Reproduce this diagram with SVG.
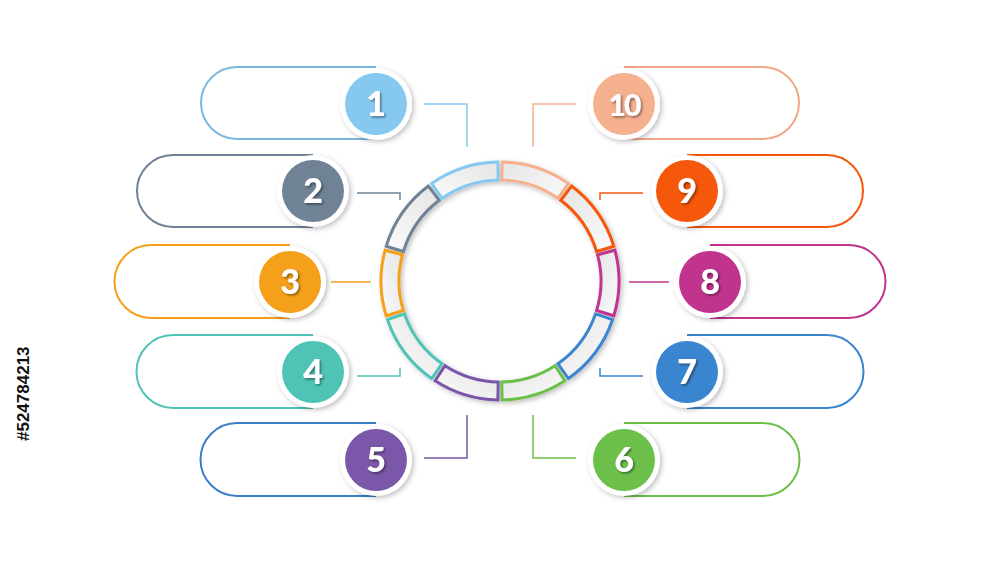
<svg xmlns="http://www.w3.org/2000/svg" width="1000" height="563" viewBox="0 0 1000 563">
<defs>
<linearGradient id="sg" x1="0" y1="0" x2="1" y2="1"><stop offset="0" stop-color="#e4e4e4"/><stop offset="1" stop-color="#fbfbfb"/></linearGradient>
<filter id="sh" x="-30%" y="-30%" width="160%" height="160%"><feDropShadow dx="2" dy="2" stdDeviation="2.5" flood-color="#000" flood-opacity="0.25"/></filter>
<filter id="ts" x="-30%" y="-30%" width="160%" height="160%"><feDropShadow dx="1.5" dy="1.5" stdDeviation="1" flood-color="#000" flood-opacity="0.45"/></filter>
</defs>
<style>
.seg{fill:url(#sg);stroke-width:3}
.pill{fill:#fff;stroke-width:2}
.ring{fill:#fff;filter:url(#sh)}
.num{font-family:Lato,"DejaVu Sans",sans-serif;font-weight:900;font-size:34px;fill:#fff;text-anchor:middle;filter:url(#ts)}
.con path{fill:none;stroke-width:1.5}
</style>
<rect width="1000" height="563" fill="#fff"/>
<g id="ring" filter="url(#sh)">
<path class="seg" stroke="#f5b08e" d="M502.1,162 A119,119 0 0 1 568.3,183.5 L557.9,198.3 A101,101 0 0 0 501.8,180 Z"/>
<path class="seg" stroke="#f5580a" d="M571.6,186 A119,119 0 0 1 613.8,246.2 L596.6,251.5 A101,101 0 0 0 560.8,200.3 Z"/>
<path class="seg" stroke="#c0348e" d="M614.9,250.2 A119,119 0 0 1 613.8,315.8 L596.6,310.5 A101,101 0 0 0 597.6,254.9 Z"/>
<path class="seg" stroke="#3a85cf" d="M612.5,319.7 A119,119 0 0 1 568.3,378.5 L557.9,363.7 A101,101 0 0 0 595.5,313.9 Z"/>
<path class="seg" stroke="#6cc04a" d="M564.8,380.8 A119,119 0 0 1 502.1,400 L501.8,382 A101,101 0 0 0 555,365.7 Z"/>
<g transform="translate(1000,0) scale(-1,1)">
<path class="seg" stroke="#86c9f0" d="M502.1,162 A119,119 0 0 1 568.3,183.5 L557.9,198.3 A101,101 0 0 0 501.8,180 Z"/>
<path class="seg" stroke="#6f8296" d="M571.6,186 A119,119 0 0 1 613.8,246.2 L596.6,251.5 A101,101 0 0 0 560.8,200.3 Z"/>
<path class="seg" stroke="#f5a01a" d="M614.9,250.2 A119,119 0 0 1 613.8,315.8 L596.6,310.5 A101,101 0 0 0 597.6,254.9 Z"/>
<path class="seg" stroke="#4fc4b6" d="M612.5,319.7 A119,119 0 0 1 568.3,378.5 L557.9,363.7 A101,101 0 0 0 595.5,313.9 Z"/>
<path class="seg" stroke="#7a57a8" d="M564.8,380.8 A119,119 0 0 1 502.1,400 L501.8,382 A101,101 0 0 0 555,365.7 Z"/>
</g>
</g>
<g id="connectors" class="con">
<path stroke="#86c9f0" d="M424,104 H467 V147"/>
<path stroke="#6f8296" d="M357,193 H400 V200"/>
<path stroke="#f5a01a" d="M331,282 H371"/>
<path stroke="#4fc4b6" d="M357,376 H400 V368"/>
<path stroke="#7a57a8" d="M424,458 H467 V415"/>
<path stroke="#f5b08e" d="M576,104 H533 V147"/>
<path stroke="#f5580a" d="M643,193 H600 V200"/>
<path stroke="#c0348e" d="M669,282 H629"/>
<path stroke="#3a85cf" d="M643,376 H600 V368"/>
<path stroke="#6cc04a" d="M576,458 H533 V415"/>
</g>
<g id="n1"><path class="pill" stroke="#7ab8e0" d="M376,67 H237 A36,36 0 0 0 237,139 H376"/><circle class="ring" cx="376" cy="104" r="36"/><circle cx="376" cy="104" r="31" fill="#86c9f0"/><text class="num" x="376" y="116">1</text></g>
<g id="n2"><path class="pill" stroke="#6f8296" d="M313,155 H173 A36,36 0 0 0 173,227 H313"/><circle class="ring" cx="313" cy="191" r="36"/><circle cx="313" cy="191" r="31" fill="#6f8296"/><text class="num" x="313" y="203">2</text></g>
<g id="n3"><path class="pill" stroke="#f5a01a" d="M290,245 H151 A36,36 0 0 0 151,318 H290"/><circle class="ring" cx="290" cy="282" r="36"/><circle cx="290" cy="282" r="31" fill="#f5a01a"/><text class="num" x="290" y="294">3</text></g>
<g id="n4"><path class="pill" stroke="#4fc4b6" d="M313,335 H173 A36,36 0 0 0 173,408 H313"/><circle class="ring" cx="313" cy="372" r="36"/><circle cx="313" cy="372" r="31" fill="#4fc4b6"/><text class="num" x="313" y="384">4</text></g>
<g id="n5"><path class="pill" stroke="#3a7ec8" d="M376,423 H237 A36,36 0 0 0 237,496 H376"/><circle class="ring" cx="376" cy="460" r="36"/><circle cx="376" cy="460" r="31" fill="#7a57a8"/><text class="num" x="376" y="472">5</text></g>
<g id="n6"><path class="pill" stroke="#6cc04a" d="M624,423 H763 A36,36 0 0 1 763,496 H624"/><circle class="ring" cx="624" cy="460" r="36"/><circle cx="624" cy="460" r="31" fill="#6cc04a"/><text class="num" x="624" y="472">6</text></g>
<g id="n7"><path class="pill" stroke="#3a85cf" d="M687,335 H827 A36,36 0 0 1 827,408 H687"/><circle class="ring" cx="687" cy="372" r="36"/><circle cx="687" cy="372" r="31" fill="#3a85cf"/><text class="num" x="687" y="384">7</text></g>
<g id="n8"><path class="pill" stroke="#c0348e" d="M710,245 H849 A36,36 0 0 1 849,318 H710"/><circle class="ring" cx="710" cy="282" r="36"/><circle cx="710" cy="282" r="31" fill="#c0348e"/><text class="num" x="710" y="294">8</text></g>
<g id="n9"><path class="pill" stroke="#f5580a" d="M687,155 H827 A36,36 0 0 1 827,227 H687"/><circle class="ring" cx="687" cy="191" r="36"/><circle cx="687" cy="191" r="31" fill="#f5580a"/><text class="num" x="687" y="203">9</text></g>
<g id="n10"><path class="pill" stroke="#f0a888" d="M624,67 H763 A36,36 0 0 1 763,139 H624"/><circle class="ring" cx="624" cy="104" r="36"/><circle cx="624" cy="104" r="31" fill="#f5b08e"/><text class="num" x="624" y="116" style="font-size:30px;letter-spacing:-2px">10</text></g>
<text transform="translate(29,441) rotate(-90)" font-family="Liberation Sans, sans-serif" font-weight="bold" font-size="17" fill="#111">#524784213</text>
</svg>
